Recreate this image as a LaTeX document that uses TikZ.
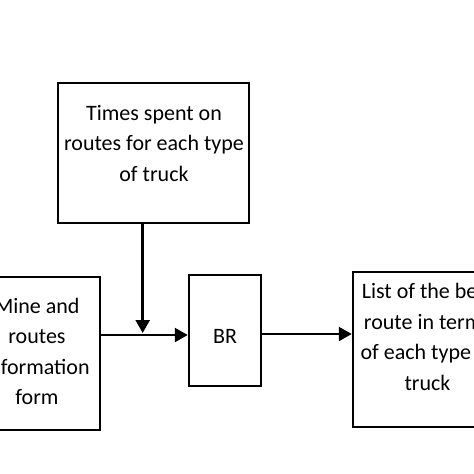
\documentclass[tikz,border=0pt]{standalone}
\usepackage{fontspec}
\setmainfont{Carlito}
\usetikzlibrary{arrows.meta}
\begin{document}
\begin{tikzpicture}[x=1pt,y=-1pt,
  box/.style={draw,line width=2.5pt,inner sep=0pt},
  txt/.style={align=center,font=\fontsize{22}{30.5}\selectfont,inner sep=0pt},
  arr/.style={line width=2.5pt,-{Triangle[length=13pt,width=14pt]}}]
\useasboundingbox (0,0) rectangle (474,474);
\clip (0,0) rectangle (474,474);
\fill[white] (0,0) rectangle (474,474);
% boxes
\node[box,minimum width=191pt,minimum height=140pt] (top) at (153.5,153) {};
\node[box,minimum width=126pt,minimum height=153pt] (left) at (37,353.5) {};
\node[box,minimum width=72pt,minimum height=111pt] (br) at (225,330.5) {};
\node[box,minimum width=149pt,minimum height=155pt] (out) at (427.5,349.5) {};
% texts
\node[txt] (toptxt) at (154,143.5) {Times spent on\\routes for each type\\of truck};
\node[txt] (lefttxt) at (37,351.5) {Mine and\\routes\\information\\form};
\node[txt] (brtxt) at (225,336.5) {BR};
\node[txt] (outtxt) at (427.5,337) {List of the best\\route in terms\\of each type of\\truck};
% connectors
\coordinate (j) at (142.7,335);
\coordinate (jt) at (142.7,333);
\coordinate (k) at (300,334);
\draw[arr] (top.south -| jt) -- (jt);
\draw[arr] (left.east |- j) -- (br.west |- j);
\draw[arr] (br.east |- k) -- (out.west |- k);
\end{tikzpicture}
\end{document}
